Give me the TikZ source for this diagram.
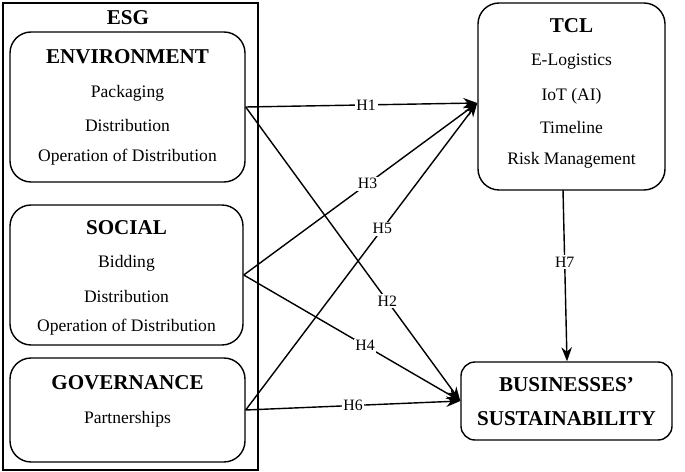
\documentclass[tikz,border=0pt]{standalone}
\usepackage{fontspec}
\setmainfont{Liberation Serif}
\usetikzlibrary{arrows.meta}
\begin{document}
\begin{tikzpicture}[x=0.02cm,y=-0.02cm,
  box/.style={draw, thick, rounded corners=12pt, inner sep=0pt},
  lnk/.style={thick, -{Stealth[length=8pt,width=6pt]}},
  lab/.style={fill=white, inner sep=1pt, font=\small}]
\path[use as bounding box] (0,0) rectangle (685,472);

\node[draw, thick, minimum width=255*0.02cm, minimum height=467*0.02cm, inner sep=0pt] (esg) at (130.5,236.5) {};
\node[font=\bfseries\large] (esgt) at (128,18) {ESG};

\node[box, minimum width=235*0.02cm, minimum height=150*0.02cm] (env) at (127.5,107) {};
\node[font=\bfseries\large] at (127.5,57) {ENVIRONMENT};
\node at (127.5,93) {Packaging};
\node at (127.5,125) {Distribution};
\node at (127.5,157) {Operation of Distribution};

\node[box, minimum width=233*0.02cm, minimum height=140*0.02cm] (soc) at (126.5,275) {};
\node[font=\bfseries\large] at (126.5,228) {SOCIAL};
\node at (126.5,263) {Bidding};
\node at (126.5,296) {Distribution};
\node at (126.5,327) {Operation of Distribution};

\node[box, minimum width=235*0.02cm, minimum height=104*0.02cm] (gov) at (127.5,410) {};
\node[font=\bfseries\large] at (127.5,383) {GOVERNANCE};
\node at (127.5,419) {Partnerships};

\node[box, minimum width=187*0.02cm, minimum height=187*0.02cm] (tcl) at (571.5,96.5) {};
\node[font=\bfseries\large] at (571.5,26) {TCL};
\node at (571.5,62) {E-Logistics};
\node at (571.5,96) {IoT (AI)};
\node at (571.5,127) {Timeline};
\node at (571.5,160) {Risk Management};

\node[box, rounded corners=8pt, minimum width=211*0.02cm, minimum height=78*0.02cm] (bs) at (566.5,401) {};
\node[font=\bfseries\large] at (566.5,385) {BUSINESSES'};
\node[font=\bfseries\large] at (566.5,419) {SUSTAINABILITY};

\draw[lnk] (env.east) -- (tcl.west |- 0,103) node[lab, pos=0.52] {H1};
\draw[lnk] (env.east) -- (bs.west) node[lab, pos=0.66] {H2};
\draw[lnk] (soc.east) -- (tcl.west |- 0,103) node[lab, pos=0.53] {H3};
\draw[lnk] (soc.east) -- (bs.west) node[lab, pos=0.56] {H4};
\draw[lnk] (gov.east) -- (tcl.west |- 0,103) node[lab, pos=0.59] {H5};
\draw[lnk] (gov.east) -- (bs.west) node[lab, pos=0.5] {H6};
\draw[lnk] (563,190) -- (bs.north -| 567,0) node[lab, pos=0.42] {H7};
\end{tikzpicture}
\end{document}
